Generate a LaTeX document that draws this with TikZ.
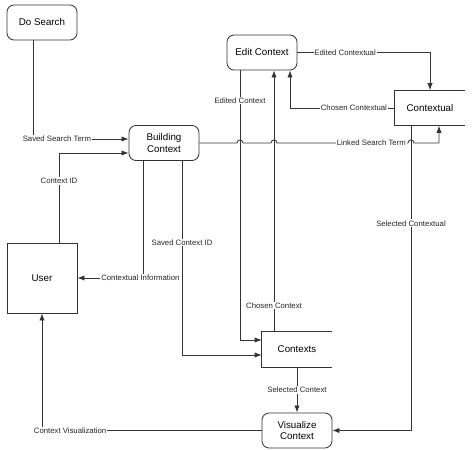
\documentclass[tikz,border=0pt]{standalone}
\usepackage{fontspec}
\setmainfont{Liberation Sans}
\usetikzlibrary{calc,arrows.meta}

\begin{document}
\begin{tikzpicture}[
    x=0.85pt, y=-0.85pt,
    proc node/.style={rectangle, rounded corners=6pt, draw=black!80, line width=0.7pt, minimum width=59.5pt, minimum height=29.75pt, align=center, inner sep=1pt, font=\fontsize{8.3}{9.6}\selectfont},
    ext node/.style={rectangle, draw=black!80, line width=0.7pt, minimum width=59.5pt, minimum height=59.5pt, font=\fontsize{8.3}{9.6}\selectfont},
    store node/.style={rectangle, minimum width=59.5pt, minimum height=29.75pt, inner sep=1pt, font=\fontsize{8.3}{9.6}\selectfont},
    store line/.style={draw=black!80, line width=0.7pt},
    flow edge/.style={draw=black!80, line width=0.7pt, -{Latex[length=6pt,width=4.5pt]}},
    flow label/.style={fill=white, inner sep=0.8pt, text=black!85, font=\fontsize{6.6}{7.5}\selectfont}
]
\useasboundingbox (0,0) rectangle (474,450);

% processes, user and stores
\node[proc node] (dosearch)   at (42,22.5)  {Do Search};
\node[proc node] (building)   at (164,143)  {Building\\Context};
\node[proc node] (edit)       at (262,52.5) {Edit Context};
\node[proc node] (visualize)  at (297,430.5) {Visualize\\Context};
\node[ext node]  (user)       at (42,278)   {User};
\node[store node] (contextual) at (430,108) {Contextual};
\node[store node] (contexts)   at (297,349.5) {Contexts};

\foreach \s in {contextual, contexts}
  \draw[store line] (\s.north east) -- (\s.north west) -- (\s.south west) -- (\s.south east);

% lanes of the long vertical flows
\coordinate (ecDown) at ($(edit.south)+(-22,0)$);
\coordinate (ecUp)   at ($(contexts.north)+(-23,0)$);
\coordinate (cxDown) at ($(contextual.south)+(-19,0)$);
\coordinate (cxUp)   at ($(contextual.south)+(9,0)$);

% flows
\draw[flow edge] ($(dosearch.south)+(-9,0)$) |- node[flow label, pos=0.625] {Saved Search Term} ($(building.west)+(0,-4)$);
\draw[flow edge] ($(user.north)+(17,0)$) |- node[flow label, pos=0.344] {Context ID} ($(building.west)+(0,10)$);
\draw[flow edge] ($(building.south)+(-21,0)$) |- node[flow label, pos=0.52] {Contextual Information} (user.east);
\draw[flow edge] ($(building.south)+(18,0)$) |- node[flow label, pos=0.21] {Saved Context ID} ($(contexts.west)+(0,5.5)$);

\draw[flow edge] (building.east) -- ($(building.east -| ecDown)+(-3,0)$) .. controls +(0,-4) and +(0,-4) .. ++(6,0)
  -- ($(building.east -| ecUp)+(-3,0)$) .. controls +(0,-4) and +(0,-4) .. ++(6,0)
  -- node[flow label, pos=0.72] {Linked Search Term} ($(building.east -| cxDown)+(-3,0)$) .. controls +(0,-4) and +(0,-4) .. ++(6,0)
  -- (building.east -| cxUp) -- (cxUp);

\draw[flow edge] (ecDown) |- node[flow label, pos=0.056] {Edited Context} ($(contexts.west)+(0,-9.5)$);
\draw[flow edge] (ecUp) -- node[flow label, pos=0.1] {Chosen Context} (ecUp |- edit.south);
\draw[flow edge] (contextual.west) -| node[flow label, pos=0.195] {Chosen Contextual} ($(edit.south)+(28,0)$);
\draw[flow edge] (edit.east) -| node[flow label, pos=0.18] {Edited Contextual} (contextual.north);
\draw[flow edge] (cxDown) |- node[flow label, pos=0.16] {Selected Contextual} (visualize.east);
\draw[flow edge] (contexts.south) -- node[flow label] {Selected Context} (visualize.north);
\draw[flow edge] (visualize.west) -| node[flow label, pos=0.436] {Context Visualization} (user.south);

\end{tikzpicture}
\end{document}
